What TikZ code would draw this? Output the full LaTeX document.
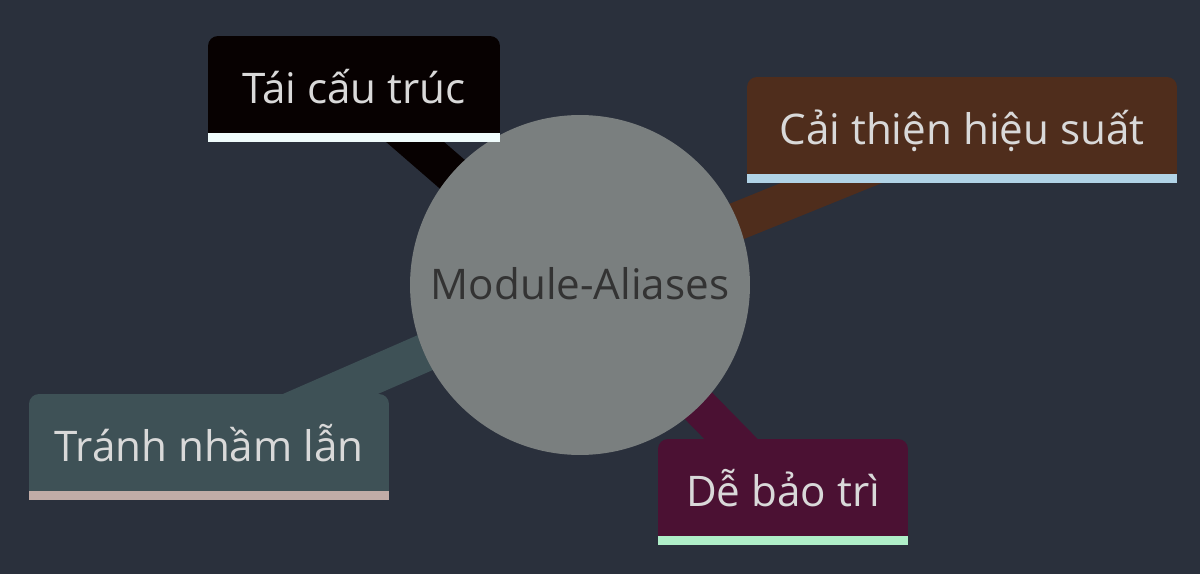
\documentclass[tikz,border=0pt]{standalone}
\usepackage{fontspec}
\setmainfont{Open Sans}
\usetikzlibrary{positioning, backgrounds}
\definecolor{bgcol}{HTML}{2A303C}
\definecolor{rootcol}{HTML}{7A7F7F}
\definecolor{roottxt}{HTML}{333333}
\definecolor{boxtxt}{HTML}{D9D9D9}
\definecolor{fillA}{HTML}{070101}\definecolor{lineA}{HTML}{EFFBFB}
\definecolor{fillB}{HTML}{4F2D1C}\definecolor{lineB}{HTML}{B1D3E6}
\definecolor{fillC}{HTML}{3E5156}\definecolor{lineC}{HTML}{C1ACA7}
\definecolor{fillD}{HTML}{4B1133}\definecolor{lineD}{HTML}{B0EFC9}

\begin{document}
\begin{tikzpicture}[x=0.02cm,y=-0.02cm,font=\fontsize{24}{28}\selectfont,
	leaf/.style={shape=rectangle, rounded corners=0.2cm, inner sep=0pt, minimum height=2.12cm, text height=0.6cm, text depth=0pt, text=boxtxt},
	branch/.style={line width=0.76cm}]
\useasboundingbox (0,0) rectangle (1200,574);
\node[shape=circle, fill=rootcol, minimum size=6.8cm, inner sep=0pt, text height=0.6cm, text depth=0pt, text=roottxt] (root) at (580,285) {Module-Aliases};
\node[leaf, fill=fillA, minimum width=5.84cm] (n1) at (354,89) {Tái cấu trúc};
\node[leaf, fill=fillB, minimum width=8.6cm] (n2) at (962,130) {Cải thiện hiệu suất};
\node[leaf, fill=fillC, minimum width=7.2cm] (n3) at (209,447) {Tránh nhầm lẫn};
\node[leaf, fill=fillD, minimum width=5cm] (n4) at (783,492) {Dễ bảo trì};
% square bottoms and coloured underlines
\fill[fillA] ([yshift=0.3cm]n1.south west) rectangle (n1.south east); \fill[lineA] (n1.south west) rectangle ([yshift=0.18cm]n1.south east);
\fill[fillB] ([yshift=0.3cm]n2.south west) rectangle (n2.south east); \fill[lineB] (n2.south west) rectangle ([yshift=0.18cm]n2.south east);
\fill[fillC] ([yshift=0.3cm]n3.south west) rectangle (n3.south east); \fill[lineC] (n3.south west) rectangle ([yshift=0.18cm]n3.south east);
\fill[fillD] ([yshift=0.3cm]n4.south west) rectangle (n4.south east); \fill[lineD] (n4.south west) rectangle ([yshift=0.18cm]n4.south east);
\begin{pgfonlayer}{background}
\fill[bgcol] (0,0) rectangle (1200,574);
\draw[branch, fillA] (root.center) -- (n1.center); \draw[branch, fillB] (root.center) -- (n2.center);
\draw[branch, fillC] (root.center) -- (n3.center); \draw[branch, fillD] (root.center) -- (n4.center);
\end{pgfonlayer}
\end{tikzpicture}
\end{document}
